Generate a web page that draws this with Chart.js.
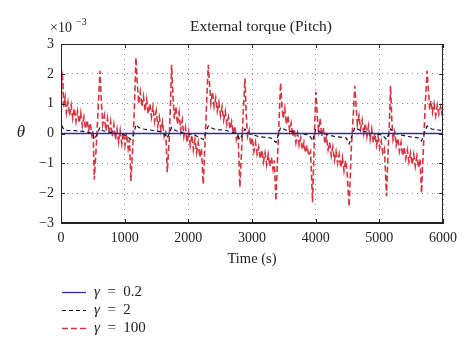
<!DOCTYPE html>
<html>
<head>
<meta charset="utf-8">
<script src="https://cdn.jsdelivr.net/npm/chart.js@4"></script>
<style>
  html, body { margin: 0; padding: 0; background: #fff; }
  #wrap { width: 474px; height: 354px; }
</style>
</head>
<body>
<div id="wrap"><canvas id="chart" width="474" height="354"></canvas></div>
<script>
// values are in units of 1e-3
const xTicks = [0, 1000, 2000, 3000, 4000, 5000, 6000];
const yTicks = [-3, -2, -1, 0, 1, 2, 3];

const blueTimes = [0, 1000, 2000, 3000, 4000, 5000, 6000];
const blueValues = [0.0, 0.0, 0.0, 0.0, 0.0, 0.0, 0.0];

const blackTimes = [0, 15, 40, 100, 200, 300, 400, 500, 523, 560, 612, 650, 750, 900, 1000, 1099, 1140, 1177, 1220, 1300, 1450, 1600, 1669, 1737, 1800, 1950, 2100, 2234, 2313, 2400, 2600, 2750, 2810, 2889, 2950, 3100, 3300, 3375, 3449, 3550, 3750, 3900, 3951, 4003, 4100, 4300, 4480, 4526, 4615, 4700, 4900, 5050, 5113, 5176, 5250, 5450, 5620, 5662, 5750, 5820, 6000];
const blackValues = [0.0, 0.25, 0.15, 0.1, 0.1, 0.08, 0.05, 0.0, -0.2, -0.05, 0.2, 0.1, 0.05, 0.0, -0.05, -0.2, -0.05, 0.3, 0.2, 0.15, 0.1, 0.05, -0.15, 0.2, 0.1, 0.0, -0.05, -0.2, 0.25, 0.15, 0.1, 0.0, -0.2, 0.15, 0.0, -0.1, -0.15, -0.3, 0.2, 0.1, 0.0, -0.05, -0.25, 0.15, 0.0, -0.1, -0.15, -0.35, 0.2, 0.1, 0.0, -0.05, -0.2, 0.15, 0.0, -0.1, -0.15, -0.25, 0.25, 0.15, 0.1];

const redTimes = [0, 12, 30, 45, 65, 85, 110, 135, 160, 185, 210, 235, 260, 285, 310, 335, 360, 385, 410, 435, 460, 485, 505, 523, 555, 585, 612, 635, 655, 680, 705, 730, 755, 780, 805, 830, 855, 880, 905, 930, 955, 980, 1005, 1030, 1055, 1075, 1099, 1130, 1155, 1177, 1200, 1220, 1245, 1270, 1295, 1320, 1345, 1370, 1395, 1420, 1445, 1470, 1495, 1520, 1545, 1570, 1595, 1620, 1645, 1669, 1700, 1720, 1737, 1760, 1780, 1805, 1830, 1855, 1880, 1905, 1930, 1955, 1980, 2005, 2030, 2055, 2080, 2105, 2130, 2155, 2180, 2205, 2234, 2265, 2290, 2313, 2335, 2355, 2380, 2405, 2430, 2455, 2480, 2505, 2530, 2555, 2580, 2605, 2630, 2655, 2680, 2705, 2730, 2755, 2780, 2810, 2840, 2865, 2889, 2910, 2930, 2955, 2980, 3005, 3030, 3055, 3080, 3105, 3130, 3155, 3180, 3205, 3230, 3255, 3280, 3305, 3330, 3350, 3375, 3405, 3430, 3449, 3470, 3490, 3515, 3540, 3565, 3590, 3615, 3640, 3665, 3690, 3715, 3740, 3765, 3790, 3815, 3840, 3865, 3890, 3920, 3951, 3975, 3990, 4003, 4025, 4045, 4070, 4095, 4120, 4145, 4170, 4195, 4220, 4245, 4270, 4295, 4320, 4345, 4370, 4395, 4420, 4445, 4470, 4495, 4526, 4560, 4590, 4615, 4635, 4655, 4680, 4705, 4730, 4755, 4780, 4805, 4830, 4855, 4880, 4905, 4930, 4955, 4980, 5005, 5030, 5055, 5080, 5113, 5140, 5160, 5176, 5195, 5215, 5240, 5265, 5290, 5315, 5340, 5365, 5390, 5415, 5440, 5465, 5490, 5515, 5540, 5565, 5590, 5615, 5640, 5662, 5690, 5720, 5750, 5770, 5790, 5810, 5835, 5860, 5885, 5910, 5935, 5960, 5980, 6000];
const redValues = [0.4, 2.1, 1.7, 0.9, 1.2, 0.7, 1.05, 0.6, 0.95, 0.5, 0.85, 0.4, 0.75, 0.35, 0.7, 0.25, 0.55, 0.15, 0.45, 0.1, 0.35, -0.05, 0.1, -1.55, -0.4, 0.9, 2.1, 1.0, 0.3, 0.6, 0.1, 0.5, 0.0, 0.4, -0.1, 0.3, -0.2, 0.15, -0.3, 0.1, -0.35, 0.05, -0.4, 0.0, -0.5, -0.2, -1.6, -0.3, 1.0, 2.55, 1.6, 1.0, 1.4, 0.9, 1.25, 0.75, 1.15, 0.65, 1.0, 0.55, 0.9, 0.4, 0.75, 0.25, 0.55, 0.1, 0.4, -0.1, 0.1, -1.3, -0.2, 1.0, 2.3, 1.2, 0.5, 0.9, 0.3, 0.7, 0.1, 0.45, -0.1, 0.2, -0.3, 0.05, -0.4, -0.05, -0.55, -0.2, -0.65, -0.3, -0.8, -0.5, -1.7, -0.2, 1.2, 2.3, 1.6, 1.0, 1.4, 0.9, 1.2, 0.75, 1.05, 0.6, 0.9, 0.45, 0.75, 0.3, 0.55, 0.15, 0.4, 0.0, 0.25, -0.2, 0.0, -1.8, -0.4, 0.8, 1.85, 0.6, -0.1, 0.1, -0.4, -0.15, -0.6, -0.3, -0.7, -0.45, -0.85, -0.55, -0.95, -0.65, -1.05, -0.7, -1.1, -0.8, -1.2, -0.9, -2.25, -0.6, 0.7, 1.7, 0.9, 0.5, 0.85, 0.3, 0.6, 0.1, 0.35, -0.1, 0.15, -0.3, 0.0, -0.4, -0.15, -0.55, -0.3, -0.65, -0.4, -0.75, -0.6, -2.3, -0.5, 0.6, 1.4, 0.6, 0.1, 0.5, -0.1, 0.2, -0.35, -0.1, -0.55, -0.3, -0.75, -0.45, -0.9, -0.6, -1.0, -0.7, -1.15, -0.8, -1.25, -0.9, -1.35, -2.45, -0.5, 0.6, 1.6, 0.9, 0.3, 0.6, 0.15, 0.45, 0.0, 0.35, -0.1, 0.25, -0.2, 0.15, -0.3, 0.0, -0.4, -0.1, -0.5, -0.25, -0.65, -0.5, -2.1, -0.5, 0.5, 1.6, 0.5, -0.2, 0.05, -0.4, -0.15, -0.6, -0.3, -0.75, -0.45, -0.85, -0.55, -0.95, -0.65, -1.05, -0.7, -1.1, -0.75, -1.15, -0.85, -2.0, -0.6, 0.9, 2.1, 1.5, 0.8, 1.1, 0.7, 1.0, 0.6, 0.95, 0.65, 0.9, 0.7, 0.9];

const seriesLabels = ["0.2", "2", "100"];
const titleText = "External torque (Pitch)";
const serif = "'Liberation Serif', 'DejaVu Serif', serif";

function toPoints(times, values) {
  return times.map((t, i) => ({ x: t, y: values[i] }));
}

// titles, exponent, inward ticks, box and the stacked legend
const decorations = {
  id: "decorations",
  afterDraw(chart) {
    const { ctx, chartArea: a, scales } = chart;
    ctx.save();

    // box
    ctx.strokeStyle = "#222";
    ctx.lineWidth = 1;
    ctx.strokeRect(a.left + 0.5, a.top + 0.5, a.right - a.left - 1, a.bottom - a.top - 1);

    // inward ticks
    ctx.beginPath();
    xTicks.forEach(v => {
      const x = Math.round(scales.x.getPixelForValue(v)) + 0.5;
      ctx.moveTo(x, a.bottom); ctx.lineTo(x, a.bottom - 4);
      ctx.moveTo(x, a.top); ctx.lineTo(x, a.top + 4);
    });
    yTicks.forEach(v => {
      const y = Math.round(scales.y.getPixelForValue(v)) + 0.5;
      ctx.moveTo(a.left, y); ctx.lineTo(a.left + 4, y);
      ctx.moveTo(a.right, y); ctx.lineTo(a.right - 4, y);
    });
    ctx.stroke();

    ctx.fillStyle = "#222";
    ctx.textBaseline = "middle";

    // title
    ctx.font = "15.5px " + serif;
    ctx.textAlign = "center";
    ctx.fillText(titleText, 261, 27);

    // x-axis title
    ctx.font = "14.5px " + serif;
    ctx.fillText("Time (s)", 252, 259);

    // exponent
    ctx.textAlign = "left";
    ctx.font = "14px " + serif;
    ctx.fillText("×10", 50, 28);
    ctx.font = "10px " + serif;
    ctx.fillText("−3", 76, 22);

    // theta
    ctx.font = "italic 17px " + serif;
    ctx.textAlign = "center";
    ctx.fillText("θ", 21, 133);

    // legend
    const rows = [292, 310, 328];
    chart.data.datasets.forEach((ds, i) => {
      const y = rows[i] + 0.5;
      ctx.save();
      ctx.strokeStyle = ds.borderColor;
      ctx.lineWidth = ds.borderWidth;
      ctx.setLineDash(ds.borderDash || []);
      ctx.beginPath();
      ctx.moveTo(62, y); ctx.lineTo(86, y);
      ctx.stroke();
      ctx.restore();
      ctx.textAlign = "left";
      ctx.font = "italic 15px " + serif;
      ctx.fillText("γ", 94, rows[i]);
      const w = ctx.measureText("γ").width;
      ctx.font = "15px " + serif;
      ctx.fillText("  =  " + seriesLabels[i], 94 + w, rows[i]);
    });

    ctx.restore();
  }
};

new Chart(document.getElementById("chart"), {
  type: "line",
  data: {
    datasets: [
      {
        label: "γ = " + seriesLabels[0],
        data: toPoints(blueTimes, blueValues),
        borderColor: "#2b2f9e",
        borderWidth: 1.3,
        pointRadius: 0,
        tension: 0
      },
      {
        label: "γ = " + seriesLabels[1],
        data: toPoints(blackTimes, blackValues),
        borderColor: "#111111",
        borderWidth: 1.2,
        borderDash: [4, 3],
        pointRadius: 0,
        tension: 0
      },
      {
        label: "γ = " + seriesLabels[2],
        data: toPoints(redTimes, redValues),
        borderColor: "#d6343f",
        borderWidth: 1.6,
        borderDash: [6, 3],
        pointRadius: 0,
        tension: 0
      }
    ]
  },
  options: {
    responsive: false,
    animation: false,
    layout: { padding: { top: 44, right: 31, left: 0, bottom: 0 } },
    plugins: {
      legend: { display: false },
      title: { display: false },
      tooltip: { enabled: false }
    },
    scales: {
      x: {
        type: "linear",
        min: 0,
        max: 6000,
        afterFit: s => { s.height = 131; },
        afterBuildTicks: s => { s.ticks = xTicks.map(v => ({ value: v })); },
        ticks: {
          padding: 7,
          color: "#222",
          font: { family: serif, size: 14 },
          maxRotation: 0,
          callback: v => String(v)
        },
        grid: { color: "#888", drawTicks: false, lineWidth: 1 },
        border: { display: true, color: "#222", dash: [1, 4] }
      },
      y: {
        min: -3,
        max: 3,
        afterFit: s => { s.width = 61; },
        afterBuildTicks: s => { s.ticks = yTicks.map(v => ({ value: v })); },
        ticks: {
          padding: 7,
          color: "#222",
          font: { family: serif, size: 14 },
          callback: v => (v < 0 ? "−" + Math.abs(v) : String(v))
        },
        grid: { color: "#888", drawTicks: false, lineWidth: 1 },
        border: { display: true, color: "#222", dash: [1, 4] }
      }
    }
  },
  plugins: [decorations]
});
</script>
</body>
</html>
